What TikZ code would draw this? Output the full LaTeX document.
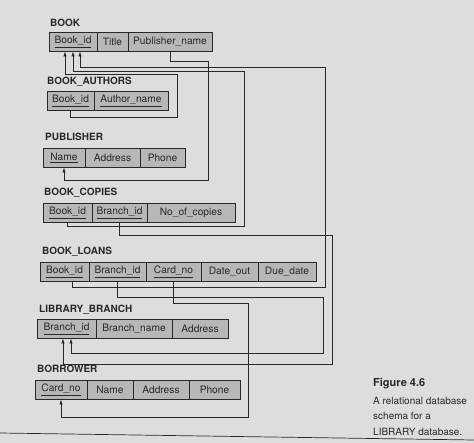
\documentclass[tikz,border=0pt]{standalone}
\usepackage{fontspec}
\setsansfont{TeX Gyre Heros}
\usepackage{xcolor}
\definecolor{pagegray}{RGB}{222,221,219}
\definecolor{cellgray}{RGB}{184,183,181}
\definecolor{inkgray}{RGB}{40,40,40}
\usetikzlibrary{positioning, arrows.meta}
\newcommand{\keyattr}[1]{\underline{#1}}

\begin{document}
\begin{tikzpicture}[
    % GLOBAL CFG
    x=1pt, y=-1pt,
    font=\sffamily\fontsize{10.2}{12}\selectfont,
    >={Latex[length=5pt,width=3.5pt]},
    % Styles
    attr/.style={% One attribute of a relation
        rectangle,
        draw=inkgray,
        fill=cellgray,
        text=inkgray,
        minimum height=19pt,
        inner sep=0pt,
        outer sep=0pt,
        line width=0.7pt,
        anchor=west,
        },
    relname/.style={% Name of the relation
        font=\sffamily\bfseries\fontsize{10}{12}\selectfont,
        text=inkgray,
        inner sep=0pt,
        anchor=west,
        },
    fkey/.style={% Foreign key links
        draw=inkgray,
        line width=0.7pt,
        ->,
        },
    caption/.style={% Figure caption
        text=inkgray,
        inner sep=0pt,
        align=left,
        },
    ]

    % Page
    \useasboundingbox (0,0) rectangle (474,443);
    \fill [pagegray] (0,0) rectangle (474,443);

    % BOOK
    \node [relname] (l-book) at (50,23) {BOOK};
    \node [attr, minimum width=48pt] (b-bookid) at (49,42) {\keyattr{Book\_id}};
    \node [attr, minimum width=31pt, right=0pt of b-bookid] (b-title) {Title};
    \node [attr, minimum width=84pt, right=0pt of b-title] (b-pubname) {Publisher\_name};

    % BOOK_AUTHORS
    \node [relname] (l-authors) at (47,82) {BOOK\_AUTHORS};
    \node [attr, minimum width=47pt] (ba-bookid) at (47,101) {\keyattr{Book\_id}};
    \node [attr, minimum width=74pt, right=0pt of ba-bookid] (ba-author) {\keyattr{Author\_name}};

    % PUBLISHER
    \node [relname] (l-publisher) at (45,137) {PUBLISHER};
    \node [attr, minimum width=42pt] (p-name) at (43,158) {\keyattr{Name}};
    \node [attr, minimum width=55pt, right=0pt of p-name] (p-address) {Address};
    \node [attr, minimum width=45pt, right=0pt of p-address] (p-phone) {Phone};

    % BOOK_COPIES
    \node [relname] (l-copies) at (44,193) {BOOK\_COPIES};
    \node [attr, minimum width=49pt] (bc-bookid) at (43,213) {\keyattr{Book\_id}};
    \node [attr, minimum width=55pt, right=0pt of bc-bookid] (bc-branchid) {\keyattr{Branch\_id}};
    \node [attr, minimum width=88pt, right=0pt of bc-branchid] (bc-copies) {No\_of\_copies};

    % BOOK_LOANS
    \node [relname] (l-loans) at (42,252) {BOOK\_LOANS};
    \node [attr, minimum width=49pt] (bl-bookid) at (40,272) {\keyattr{Book\_id}};
    \node [attr, minimum width=57pt, right=0pt of bl-bookid] (bl-branchid) {\keyattr{Branch\_id}};
    \node [attr, minimum width=55pt, right=0pt of bl-branchid] (bl-cardno) {\keyattr{Card\_no}};
    \node [attr, minimum width=57pt, right=0pt of bl-cardno] (bl-dateout) {Date\_out};
    \node [attr, minimum width=58pt, right=0pt of bl-dateout] (bl-duedate) {Due\_date};

    % LIBRARY_BRANCH
    \node [relname] (l-branch) at (39,310) {LIBRARY\_BRANCH};
    \node [attr, minimum width=59pt] (lb-branchid) at (37,329) {\keyattr{Branch\_id}};
    \node [attr, minimum width=76pt, right=0pt of lb-branchid] (lb-name) {Branch\_name};
    \node [attr, minimum width=56pt, right=0pt of lb-name] (lb-address) {Address};

    % BORROWER
    \node [relname] (l-borrower) at (37,369) {BORROWER};
    \node [attr, minimum width=52pt] (bo-cardno) at (35,390) {\keyattr{Card\_no}};
    \node [attr, minimum width=46pt, right=0pt of bo-cardno] (bo-name) {Name};
    \node [attr, minimum width=56pt, right=0pt of bo-name] (bo-address) {Address};
    \node [attr, minimum width=51pt, right=0pt of bo-address] (bo-phone) {Phone};

    % Turning points of the links
    \coordinate (turn-authors) at (177,74);
    \coordinate (turn-copies) at (244,71);
    \coordinate (turn-loans) at (325,67);
    \coordinate (turn-pub) at (208,180);
    \coordinate (turn-cbranch) at (332,364);
    \coordinate (turn-lbranch) at (323,353);
    \coordinate (turn-card) at (248,417);

    % Links into BOOK
    \draw [fkey] (ba-bookid.south) -- ++(0,7) -| (turn-authors) -| ([xshift=-8pt]b-bookid.south);
    \draw [fkey] (bc-bookid.south) -- ++(0,4) -| (turn-copies) -| (b-bookid.south);
    \draw [fkey] ([xshift=7.5pt]bl-bookid.south) -- ++(0,6) -| (turn-loans) -| ([xshift=7pt]b-bookid.south);

    % Link into PUBLISHER
    \draw [fkey] (b-pubname.south) -- ++(0,9.5) -| (turn-pub) -| (p-name.south);

    % Links into LIBRARY_BRANCH
    \draw [fkey] (bc-branchid.south) -- ++(0,12.5) -| (turn-cbranch) -| ([xshift=-3.5pt]lb-branchid.south);
    \draw [fkey] (bl-branchid.south) -- ++(0,15.5) -| (turn-lbranch) -| ([xshift=4.5pt]lb-branchid.south);

    % Link into BORROWER
    \draw [fkey] (bl-cardno.south) -- ++(0,21.5) -| (turn-card) -| (bo-cardno.south);

    % Caption
    \node [caption, anchor=base west, font=\sffamily\bfseries\fontsize{11}{13}\selectfont] (fig-num) at (373,387) {Figure 4.6};
    \node [caption, anchor=north west, font=\sffamily\fontsize{10}{15.5}\selectfont] (fig-text) at (373,397) {A relational database\\schema for a\\LIBRARY database.};

    % Rule under the figure
    \draw [inkgray, line width=0.7pt] (0,433) -- (474,440);

\end{tikzpicture}
\end{document}
